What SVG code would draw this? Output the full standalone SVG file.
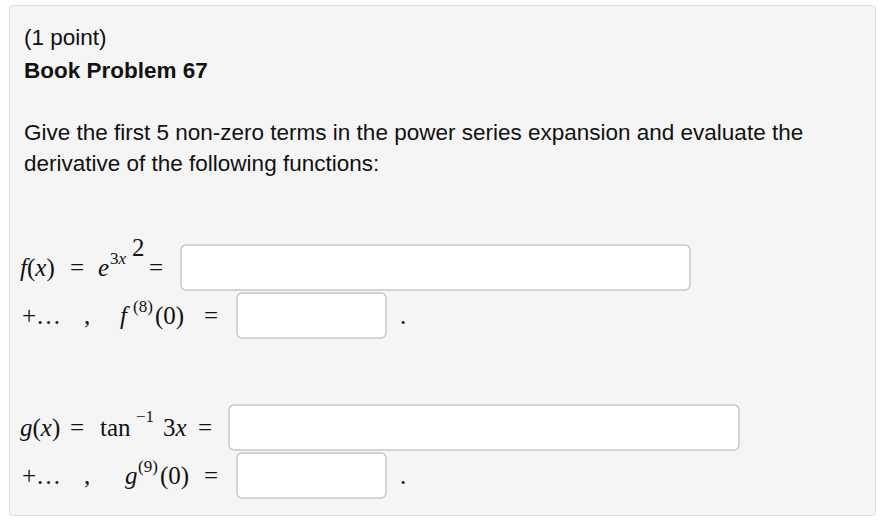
<svg xmlns="http://www.w3.org/2000/svg" width="888" height="524" viewBox="0 0 888 524">
<style>
.s{font-family:"Liberation Sans",Arial,sans-serif;font-size:22.5px;fill:#111}
.m{font-family:"Liberation Serif","Times New Roman",serif;font-size:25px;fill:#111}
.i{font-style:italic}
.sup{font-size:17px}
.box{fill:#fff;stroke:#c8c8c8;stroke-width:1.5}
</style>
<rect x="0" y="0" width="888" height="524" fill="#fff"/>
<rect x="9.5" y="5.5" width="866" height="510" rx="3" fill="#f5f5f5" stroke="#ddd"/>
<text class="s" x="24" y="45">(1 point)</text>
<text class="s" x="24" y="78" font-weight="bold">Book Problem 67</text>
<text class="s" x="24" y="140">Give the first 5 non-zero terms in the power series expansion and evaluate the</text>
<text class="s" x="24" y="171">derivative of the following functions:</text>
<g id="f">
<text class="m" x="20" y="276"><tspan class="i">f</tspan>(<tspan class="i">x</tspan>)</text>
<text class="m" x="70" y="276">=</text>
<text class="m i" x="98" y="276">e</text>
<text class="m sup" x="110" y="264">3<tspan class="i">x</tspan></text>
<text class="m" x="132" y="256" font-size="11">2</text>
<text class="m" x="149" y="276">=</text>
<rect class="box" x="181" y="245" width="509" height="45" rx="5"/>
<text class="m" x="22" y="324">+…</text>
<text class="m" x="84" y="324">,</text>
<text class="m i" x="120" y="324">f</text>
<text class="m sup" x="133" y="312">(8)</text>
<text class="m" x="155" y="324">(0)</text>
<text class="m" x="204" y="324">=</text>
<rect class="box" x="237" y="293" width="149" height="45" rx="5"/>
<text class="m" x="400" y="324">.</text>
</g>
<g id="g">
<text class="m" x="20" y="436"><tspan class="i">g</tspan>(<tspan class="i">x</tspan>)</text>
<text class="m" x="70" y="436">=</text>
<text class="m" x="100" y="436">tan</text>
<text class="m sup" x="136" y="422">−1</text>
<text class="m" x="163" y="436">3<tspan class="i">x</tspan></text>
<text class="m" x="198" y="436">=</text>
<rect class="box" x="229" y="405" width="510" height="45" rx="5"/>
<text class="m" x="22" y="484">+…</text>
<text class="m" x="84" y="484">,</text>
<text class="m i" x="125" y="484">g</text>
<text class="m sup" x="138" y="472">(9)</text>
<text class="m" x="160" y="484">(0)</text>
<text class="m" x="204" y="484">=</text>
<rect class="box" x="237" y="453" width="149" height="45" rx="5"/>
<text class="m" x="400" y="484">.</text>
</g>
</svg>
